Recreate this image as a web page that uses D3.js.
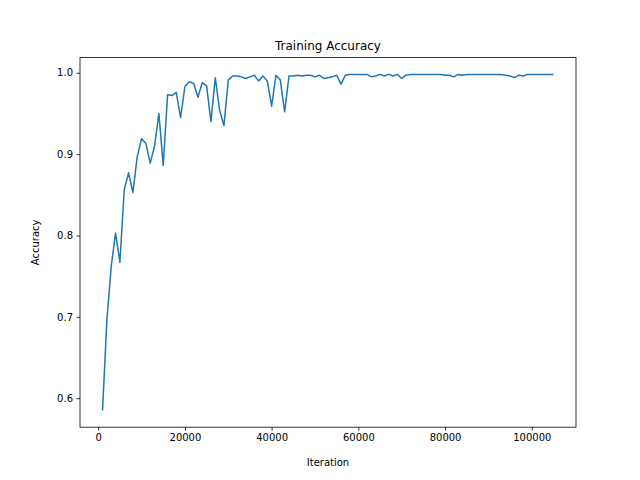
<!DOCTYPE html>
<html>
<head>
<meta charset="utf-8">
<script src="https://cdn.jsdelivr.net/npm/d3@7"></script>
<style>
  body { margin: 0; background: #fff; }
  text { font-family: "DejaVu Sans", sans-serif; }
</style>
</head>
<body>
<svg id="chart" width="640" height="480"></svg>
<script>
// iterations 1000..105000, one value every 1000
const startIter = 1000;
const stepIter = 1000;
const accuracy = [
  0.585, 0.696, 0.762, 0.803, 0.767, 0.856, 0.877, 0.853, 0.897, 0.919,
  0.913, 0.889, 0.910, 0.950, 0.886, 0.973, 0.972, 0.976, 0.945, 0.983,
  0.989, 0.987, 0.970, 0.988, 0.984, 0.940, 0.994, 0.954, 0.935, 0.991,
  0.996, 0.996, 0.995, 0.993, 0.995, 0.997, 0.990, 0.996, 0.990, 0.959,
  0.997, 0.991, 0.952, 0.996, 0.996, 0.997, 0.996, 0.997, 0.997, 0.995,
  0.997, 0.993, 0.994, 0.995, 0.997, 0.986, 0.997, 0.998, 0.998, 0.998,
  0.998, 0.998, 0.995, 0.996, 0.998, 0.996, 0.998, 0.996, 0.998, 0.993,
  0.997, 0.998, 0.998, 0.998, 0.998, 0.998, 0.998, 0.998, 0.998, 0.997,
  0.997, 0.995, 0.998, 0.997, 0.998, 0.998, 0.998, 0.998, 0.998, 0.998,
  0.998, 0.998, 0.998, 0.997, 0.996, 0.994, 0.997, 0.996, 0.998, 0.998,
  0.998, 0.998, 0.998, 0.998, 0.998
];
const xTicks = [0, 20000, 40000, 60000, 80000, 100000];
const yTicks = [0.6, 0.7, 0.8, 0.9, 1.0];

const points = accuracy.map((v, i) => ({ it: startIter + i * stepIter, v }));

const svg = d3.select("#chart");
const mLeft = 80, mRight = 576, mTop = 57.6, mBottom = 427.2;

const xMin = d3.min(points, d => d.it), xMax = d3.max(points, d => d.it);
const xPad = (xMax - xMin) * 0.05;
const yMin = d3.min(accuracy), yMax = d3.max(accuracy);
const yPad = (yMax - yMin) * 0.05;

const x = d3.scaleLinear().domain([xMin - xPad, xMax + xPad]).range([mLeft, mRight]);
const y = d3.scaleLinear().domain([yMin - yPad, yMax + yPad]).range([mBottom, mTop]);

svg.append("path")
  .datum(points)
  .attr("fill", "none")
  .attr("stroke", "#1f77b4")
  .attr("stroke-width", 1.5)
  .attr("stroke-linejoin", "round")
  .attr("d", d3.line().x(d => x(d.it)).y(d => y(d.v)));

const xAxis = svg.append("g").attr("transform", `translate(0,${mBottom})`)
  .call(d3.axisBottom(x).tickValues(xTicks).tickFormat(d3.format("d")).tickSizeOuter(0).tickSize(3.5).tickPadding(3.5));
const yAxis = svg.append("g").attr("transform", `translate(${mLeft},0)`)
  .call(d3.axisLeft(y).tickValues(yTicks).tickFormat(d3.format(".1f")).tickSizeOuter(0).tickSize(3.5).tickPadding(3.5));
[xAxis, yAxis].forEach(g => {
  g.select(".domain").remove();
  g.selectAll("text").attr("font-size", 10).attr("fill", "#000").style("font-family", "DejaVu Sans");
  g.selectAll("line").attr("stroke", "#000").attr("stroke-width", 0.8);
});

svg.append("rect")
  .attr("x", mLeft).attr("y", mTop)
  .attr("width", mRight - mLeft).attr("height", mBottom - mTop)
  .attr("fill", "none").attr("stroke", "#000").attr("stroke-width", 0.8);

svg.append("text").attr("x", (mLeft + mRight) / 2).attr("y", mTop - 8)
  .attr("text-anchor", "middle").attr("font-size", 12).text("Training Accuracy");
svg.append("text").attr("x", (mLeft + mRight) / 2).attr("y", 466)
  .attr("text-anchor", "middle").attr("font-size", 10).text("Iteration");
svg.append("text")
  .attr("transform", `translate(39,${(mTop + mBottom) / 2}) rotate(-90)`)
  .attr("text-anchor", "middle").attr("font-size", 10).text("Accuracy");
</script>
</body>
</html>
